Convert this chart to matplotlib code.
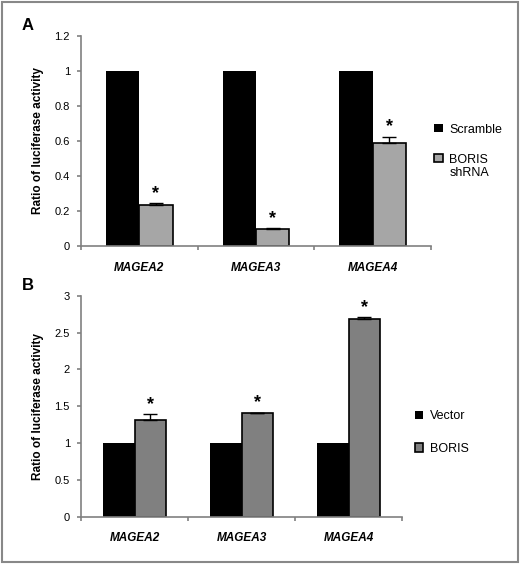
import matplotlib
matplotlib.use("Agg")
from matplotlib import pyplot as plt
from matplotlib.patches import Rectangle
import numpy as np

plt.rcParams['font.family'] = ['Liberation Sans', 'DejaVu Sans']

# data
genes = ["MAGEA2", "MAGEA3", "MAGEA4"]

scramble = [1.0, 1.0, 1.0]
shrna = [0.235, 0.10, 0.59]
shrna_err = [0.010, 0.004, 0.035]

vector = [1.0, 1.0, 1.0]
boris = [1.32, 1.405, 2.685]
boris_err = [0.07, 0.01, 0.025]

axis_grey = "#808080"


def style_axes(ax, ymax, ystep):
    ax.set_xlim(-0.5, 2.5)
    ax.set_ylim(0, ymax)
    ax.set_yticks(np.arange(0, ymax + 0.001, ystep))
    ax.set_yticklabels([f"{v:g}" for v in np.arange(0, ymax + 0.001, ystep)])
    for side in ["top", "right"]:
        ax.spines[side].set_visible(False)
    for side in ["left", "bottom"]:
        ax.spines[side].set_color(axis_grey)
        ax.spines[side].set_linewidth(1.2)
    ax.set_xticks(range(len(genes)))
    ax.set_xticklabels(genes, fontsize=8.5, fontweight="bold", style="italic")
    ax.set_xticks(np.arange(-0.5, 2.6, 1), minor=True)
    ax.tick_params(axis="x", which="major", length=0, pad=11)
    ax.tick_params(axis="x", which="minor", length=3, color=axis_grey, width=1.2)
    ax.tick_params(axis="y", length=3, color=axis_grey, width=1.2, labelsize=8, pad=5)
    ax.set_ylabel("Ratio of luciferase activity", fontsize=8.5, fontweight="bold")


def stars(ax, x, vals, errs):
    for xi, v, e in zip(x, vals, errs):
        ax.annotate("*", (xi, v + e), xytext=(0, 1), textcoords="offset points",
                    ha="center", va="bottom", fontsize=13, fontweight="bold")


def top_align(leg):
    # keep the handle next to the first line of a two-line label
    for col in leg._legend_handle_box.get_children():
        for row in col.get_children():
            row.align = "top"


fig = plt.figure(figsize=(5.2, 5.64), dpi=100)
fig.patches.append(Rectangle((0.003, 0.003), 0.994, 0.994, transform=fig.transFigure,
                             fill=False, edgecolor="#888888", linewidth=1.5))

# Panel A
axA = fig.add_axes([81 / 520, 317.7 / 564, 350 / 520, 210.6 / 564])
x = np.arange(len(genes))
wA = 0.285
axA.bar(x - wA / 2, scramble, wA, color="black", label="Scramble")
axA.bar(x + wA / 2, shrna, wA, color="#a6a6a6", edgecolor="black", linewidth=1.2,
        yerr=[np.zeros(3), shrna_err], capsize=5, ecolor="black",
        error_kw={"elinewidth": 1}, label="BORIS\nshRNA")
style_axes(axA, 1.2, 0.2)
axA.yaxis.set_label_coords(-0.106, 0.5)
stars(axA, x + wA / 2, shrna, shrna_err)
legA = axA.legend(loc="center left", bbox_to_anchor=(0.977, 0.45), frameon=False, fontsize=9,
                  handlelength=0.7, handleheight=0.7, handletextpad=0.5, labelspacing=1.45)
top_align(legA)
fig.text(28 / 520, 1 - 25 / 564, "A", fontsize=12, fontweight="bold", ha="center", va="center")

# Panel B
axB = fig.add_axes([81 / 520, 47 / 564, 321 / 520, 221.3 / 564])
wB = 0.29
axB.bar(x - wB / 2, vector, wB, color="black", label="Vector")
axB.bar(x + wB / 2, boris, wB, color="#808080", edgecolor="black", linewidth=1.2,
        yerr=[np.zeros(3), boris_err], capsize=5, ecolor="black",
        error_kw={"elinewidth": 1}, label="BORIS")
style_axes(axB, 3, 0.5)
axB.yaxis.set_label_coords(-0.115, 0.5)
stars(axB, x + wB / 2, boris, boris_err)
axB.legend(loc="center left", bbox_to_anchor=(1.004, 0.382), frameon=False, fontsize=9,
           handlelength=0.7, handleheight=0.7, handletextpad=0.5, labelspacing=1.62)
fig.text(28 / 520, 1 - 285 / 564, "B", fontsize=12, fontweight="bold", ha="center", va="center")

fig.savefig("out.png", dpi=100)
